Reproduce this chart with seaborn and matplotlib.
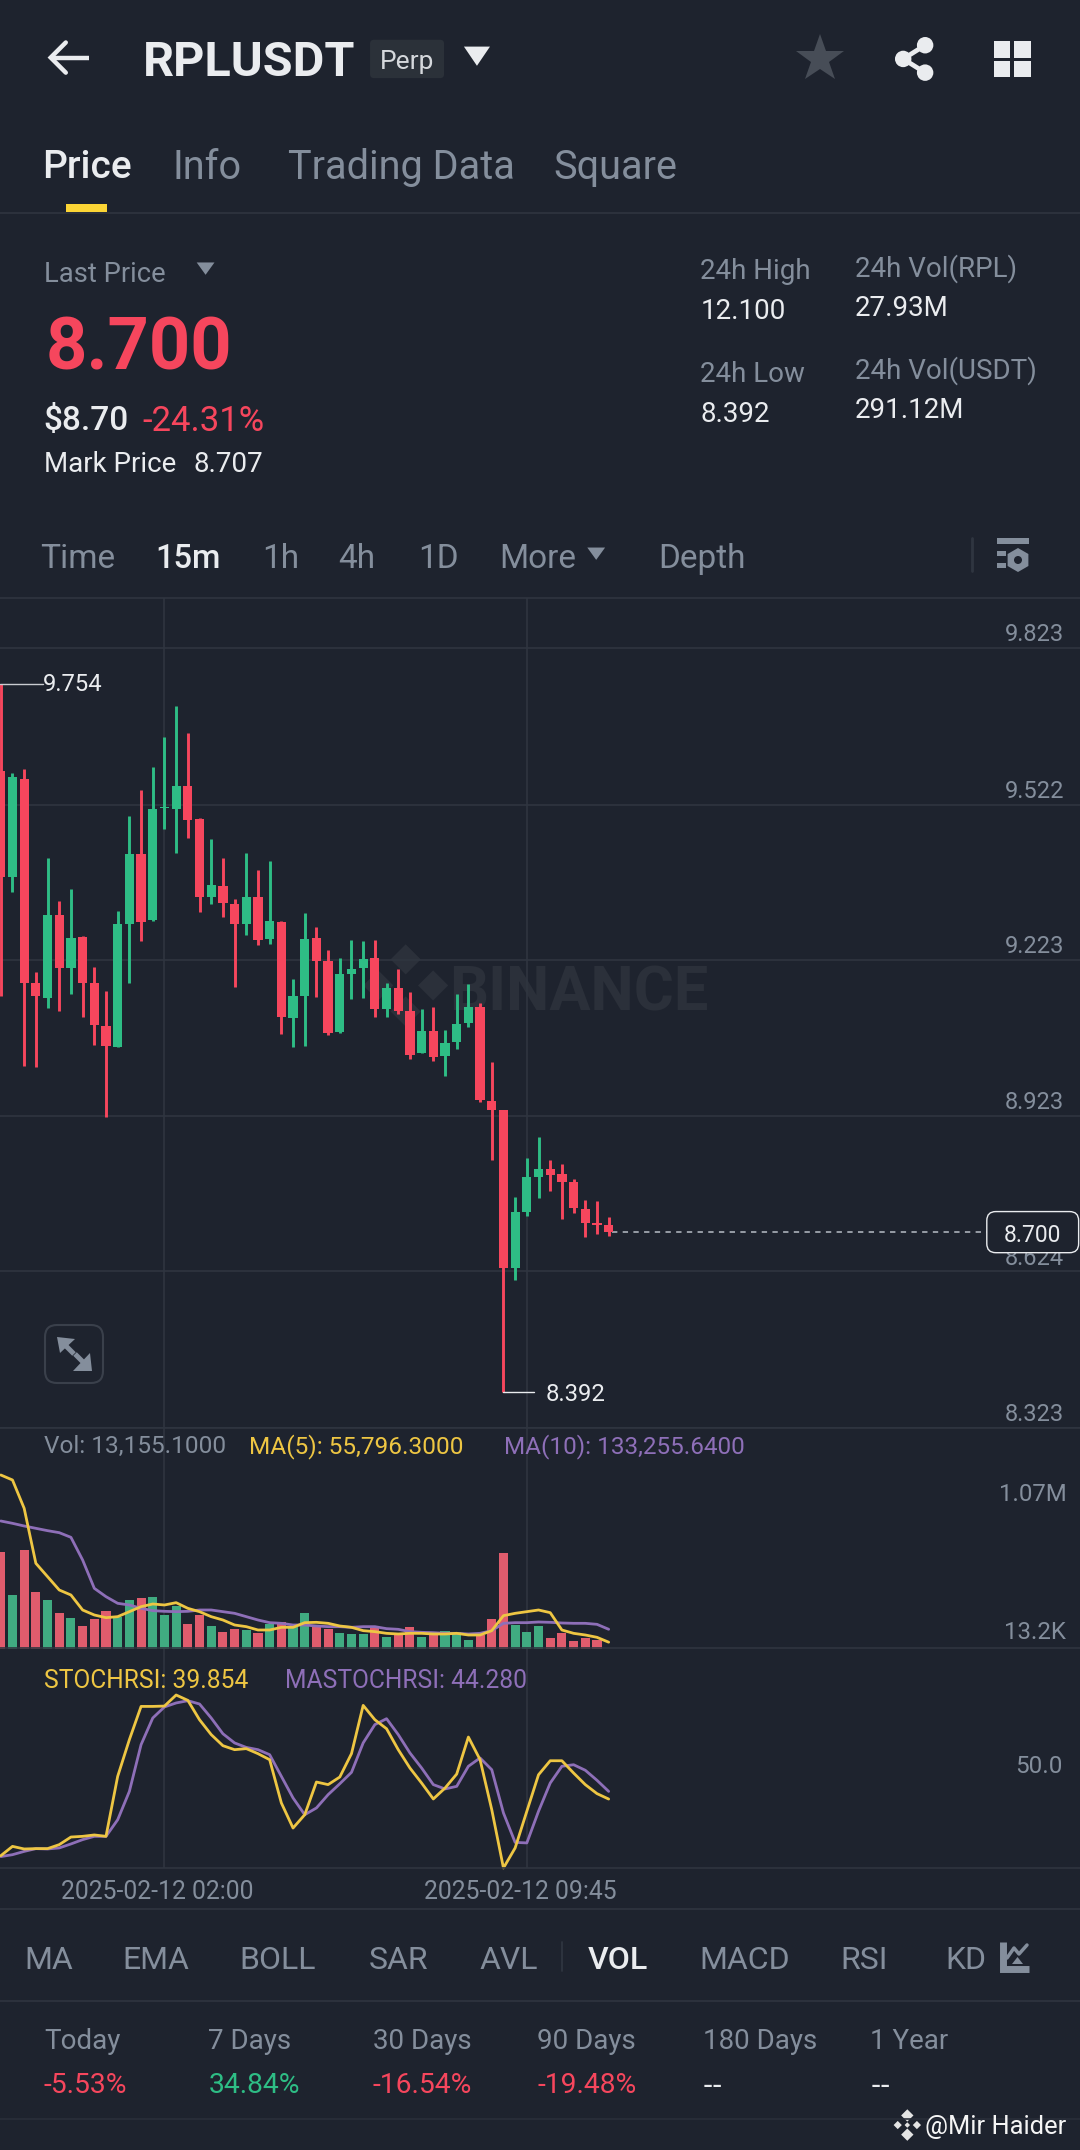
import numpy as np
import pandas as pd
import seaborn as sns
import matplotlib
matplotlib.use("Agg")
import matplotlib.pyplot as plt
from matplotlib.patches import FancyBboxPatch, Rectangle, Polygon, Circle, RegularPolygon

# ---------- data ----------
highs = [9.754,9.583,9.590,9.199,9.419,9.337,9.359,9.269,9.209,9.163,9.318,9.499,9.550,9.594,9.651,9.711,9.659,9.496,9.455,9.420,9.340,9.429,9.396,9.414,9.298,9.186,
         9.313,9.286,9.242,9.227,9.261,9.260,9.262,9.178,9.205,9.162,9.129,9.132,9.088,9.157,9.176,9.140,9.026,8.935,8.768,8.842,8.882,8.839,8.830,8.802,8.761,8.759,8.729]
lows = [9.154,9.353,9.019,9.017,9.131,9.125,9.158,9.114,9.059,8.921,9.055,9.178,9.260,9.298,9.474,9.429,9.457,9.316,9.331,9.306,9.172,9.272,9.251,9.253,9.081,9.055,
        9.058,9.151,9.079,9.083,9.148,9.149,9.113,9.114,9.120,9.033,9.044,9.028,8.999,9.052,9.095,8.949,8.839,8.392,8.607,8.730,8.766,8.778,8.725,8.737,8.691,8.696,8.693]
body_top = [9.587,9.574,9.571,9.179,9.309,9.309,9.266,9.268,9.179,9.097,9.292,9.427,9.426,9.513,9.518,9.558,9.558,9.494,9.367,9.366,9.330,9.344,9.344,9.298,9.297,9.154,
            9.264,9.266,9.221,9.197,9.205,9.225,9.226,9.169,9.169,9.124,9.087,9.087,9.064,9.100,9.133,9.133,8.952,8.934,8.738,8.805,8.821,8.822,8.811,8.797,8.744,8.717,8.714]
body_bot = [9.382,9.382,9.179,9.154,9.149,9.208,9.208,9.179,9.098,9.058,9.056,9.292,9.297,9.299,9.515,9.514,9.492,9.344,9.344,9.332,9.293,9.292,9.262,9.263,9.113,9.111,
            9.153,9.221,9.083,9.085,9.197,9.207,9.128,9.128,9.125,9.041,9.044,9.037,9.039,9.065,9.101,8.953,8.935,8.630,8.630,8.738,8.806,8.810,8.797,8.746,8.717,8.713,8.700]
rising = [0,1,0,0,1,0,1,0,0,0,1,1,0,1,1,1,0,0,1,0,0,1,0,1,0,1,
          1,0,0,1,1,1,0,1,0,0,1,0,1,1,1,0,0,0,1,1,1,0,0,0,0,0,0]
volume_k = [595,341,611,355,307,231,201,155,195,243,209,309,323,327,221,273,167,221,155,117,135,129,113,165,175,145,
            229,153,137,113,105,105,139,85,99,145,89,109,125,115,69,99,197,589,159,115,155,79,109,65,79,71,13.155]
ma5_k = [1059,1029,859,529,449,369,339,249,219,203,209,239,269,285,279,293,259,239,209,189,159,149,129,129,145,145,
         173,175,169,153,145,125,119,109,105,109,109,105,105,109,99,99,125,215,229,239,249,233,129,109,99,85,55.796]
ma10_k = [783,769,753,739,725,713,685,549,379,329,289,279,259,245,241,239,241,249,249,239,229,209,189,173,169,159,
          159,153,149,149,145,149,149,137,133,119,115,113,109,109,105,109,125,169,173,173,177,175,171,169,169,163,133.256]
stoch = [7.1,12.5,11.0,11.2,11.2,13.5,17.9,18.3,19.1,18.3,53.0,74.2,93.4,93.4,93.6,100,96.9,85.7,77.1,70.7,68.4,69.0,66.1,62.6,37.6,23.1,
         30.8,49.7,48.2,52.6,66.1,94.0,85.7,80.5,68.4,57.8,49.1,39.9,46.2,54.3,75.7,62.6,33.7,0,11.6,32.8,53.9,62.0,62.0,54.9,48.2,43.0,39.854]
ma_stoch = [6.6,7.7,9.6,11.2,11.0,11.6,13.9,16.4,18.3,18.3,27.9,44.3,71.3,86.7,93.1,95.4,96.7,94.8,86.7,77.6,72.3,69.7,68.4,65.5,53.0,40.5,
            30.8,34.7,42.4,48.7,55.3,72.3,82.9,86.3,77.1,66.5,57.8,48.2,45.7,47.2,58.8,63.6,56.8,31.8,14.8,14.5,32.8,49.1,58.8,59.7,56.5,50.7,44.28]
price_ticks = [9.823,9.522,9.223,8.923,8.624,8.323]
date_ticks = [14,45]
date_labels = ["2025-02-12 02:00","2025-02-12 09:45"]
tf_labels = ["Time","15m","1h","4h","1D","More"]
indicator_labels = ["MA","EMA","BOLL","SAR","AVL","VOL","MACD","RSI","KD"]
period_labels = ["Today","7 Days","30 Days","90 Days","180 Days","1 Year"]
period_values = ["-5.53%","34.84%","-16.54%","-19.48%","--","--"]

# ---------- style ----------
BG="#1e232e"; LINE="#2f3540"; GRAY="#848e9c"; WHITE="#eaecef"
RED="#f6465d"; GREEN="#2ebd85"; YEL="#eec643"; PUR="#8e6fb8"
sns.set_theme(style="dark", rc={"axes.facecolor":"none","figure.facecolor":BG})
plt.rcParams["font.family"]=["Roboto","DejaVu Sans"]

W,H=1080,2150
fig=plt.figure(figsize=(W/100,H/100),dpi=100,facecolor=BG)
k=1080/788
def panel(top,bot,z=2):
    a=fig.add_axes([0,1-bot/H,1,(bot-top)/H],zorder=z)
    a.set_facecolor("none")
    for s in a.spines.values(): s.set_visible(False)
    a.tick_params(left=False,bottom=False,labelleft=False,labelbottom=False)
    a.grid(False)
    return a
under=fig.add_axes([0,0,1,1],zorder=0); under.set_xlim(0,W); under.set_ylim(H,0); under.axis("off")
over=fig.add_axes([0,0,1,1],zorder=5); over.set_xlim(0,W); over.set_ylim(H,0); over.axis("off")
ap=panel(598,1428); av=panel(1428,1649.3); ar=panel(1649.3,1868)

idx=np.arange(len(highs))
df=pd.DataFrame(dict(i=idx,hi=highs,lo=lows,top=body_top,bot=body_bot,up=rising,vol=np.array(volume_k)*1000,
    ma5=np.array(ma5_k)*1000,ma10=np.array(ma10_k)*1000,st=stoch,mst=ma_stoch))
df["color"]=np.where(df.up==1,GREEN,RED)
XL=(-0.068,92.32)
for a in (ap,av,ar):
    a.set_xlim(*XL)
    a.set_xticks(date_ticks)
    a.xaxis.grid(True,color=LINE,lw=1.2)
    a.set_axisbelow(True)

# price panel
ap.set_ylim(8.323,9.9192)
ap.set_yticks(price_ticks)
ap.yaxis.grid(True,color=LINE,lw=1.2)
ap.vlines(df.i,df.lo,df.hi,colors=df.color,lw=2.1,zorder=3)
ap.bar(df.i,np.maximum(df.top-df.bot,0.003),bottom=df.bot,width=0.79,color=df.color,linewidth=0,zorder=3)
for p in price_ticks:
    ap.annotate(f"{p:.3f}",(1064/1080,p),xycoords=("axes fraction","data"),xytext=(0,1.2),textcoords="offset points",
                ha="right",va="bottom",color=GRAY,fontsize=17)
ap.plot([XL[0],2.15+1.45],[9.754,9.754],color="#c9ccd1",lw=1,zorder=4)
ap.plot([43,45.6],[8.392,8.392],color="#eaecef",lw=1,zorder=4)
ap.plot([52.3,84.4],[8.700,8.700],color="#b7bdc6",lw=1.1,ls=(0,(3.5,3.5)),zorder=2)

# volume panel
vb=13155
av.set_ylim(vb,vb+221.3*6000)
sns.barplot(data=df,x="i",y="vol",hue="color",palette={GREEN:GREEN,RED:RED},dodge=False,native_scale=True,
            width=0.78,legend=False,ax=av,zorder=2,linewidth=0)
sns.lineplot(data=df,x="i",y="ma10",color=PUR,lw=2,ax=av,zorder=3)
sns.lineplot(data=df,x="i",y="ma5",color=YEL,lw=2,ax=av,zorder=4)
av.set_xlim(*XL); av.set_ylim(vb,vb+221.3*6000); av.set_xlabel(""); av.set_ylabel("")
av.tick_params(left=False,bottom=False,labelleft=False,labelbottom=False)

# stoch rsi panel
ar.set_ylim(0,218.7/1.73)
sns.lineplot(data=df,x="i",y="mst",color=PUR,lw=2,ax=ar,zorder=3)
sns.lineplot(data=df,x="i",y="st",color=YEL,lw=2,ax=ar,zorder=4,clip_on=False)
ar.set_xlim(*XL); ar.set_xlabel(""); ar.set_ylabel("")
ar.tick_params(left=False,bottom=False,labelleft=False,labelbottom=False)
ar.set_xticklabels([])

# ---------- text and interface ----------
def T(x,y,s,size=20,color=GRAY,ha="left",weight="normal",ax=over,**kw):
    return ax.text(x*k,(y+1.2)*k,s,fontsize=size,color=color,ha=ha,va="center",fontweight=weight,**kw)
def hline(y,color=LINE,lw=1.2,x0=0,x1=788):
    over.plot([x0*k,x1*k],[y*k,y*k],color=color,lw=lw,solid_capstyle="butt")
def tri(x,y,w,h,color):
    over.add_patch(Polygon([((x-w/2)*k,(y-h/2)*k),((x+w/2)*k,(y-h/2)*k),(x*k,(y+h/2)*k)],color=color,lw=0))
def diamond(cx,cy,r,color,ax=over):
    ax.add_patch(Polygon([((cx-r)*k,cy*k),(cx*k,(cy-r)*k),((cx+r)*k,cy*k),(cx*k,(cy+r)*k)],color=color,lw=0))

# header
over.plot([38*k,65*k],[42*k,42*k],color=WHITE,lw=3.2,solid_capstyle="butt")
over.plot([48*k,37*k,48*k],[31*k,42*k,53*k],color=WHITE,lw=3.2,solid_joinstyle="miter")
T(104,45,"RPLUSDT",35,WHITE,weight="bold")
over.add_patch(FancyBboxPatch((270*k,29*k),54*k,28*k,boxstyle="round,pad=0,rounding_size=4",color="#2b3139",lw=0))
T(297,44,"Perp",19,"#d5d8dc",ha="center")
tri(348,41,19,14,WHITE)
over.plot([598*k],[43*k],marker="*",ms=36,color="#474d57",mew=0)
sx=[675,659,675]; sy=[33,43,53]
over.plot([x*k for x in sx],[y*k for y in sy],color=WHITE,lw=3.4)
for x,y in zip(sx,sy): over.add_patch(Circle((x*k,y*k),6*k,color=WHITE,lw=0))
for x,y in [(725,30),(740,30),(725,44.5),(740,44.5)]:
    over.add_patch(Rectangle((x*k,y*k),12*k,12*k,color=WHITE,lw=0))

# tabs
T(31,121,"Price",28,WHITE,weight="medium")
T(126,121,"Info",28.5); T(210,121,"Trading Data",28.5); T(404,121,"Square",28.5)
over.add_patch(Rectangle((48*k,149*k),30*k,6*k,color="#fcd535",lw=0))
hline(155.5)

# price summary
T(32,199,"Last Price",19.7); tri(150,196,13,9,GRAY)
T(33,254,"8.700",52,RED,weight="bold")
T(32,306,"$8.70",24,WHITE,weight="medium"); T(104,306,"-24.31%",25,RED)
T(32,338,"Mark Price",20,WHITE); T(141,338,"8.707",20,WHITE)
T(511,197,"24h High",20); T(511,226,"12.100",20,WHITE)
T(511,272,"24h Low",20); T(511,301,"8.392",20,WHITE)
T(624,195,"24h Vol(RPL)",20); T(624,224,"27.93M",20,WHITE)
T(624,269,"24h Vol(USDT)",20); T(624,298,"291.12M",20,WHITE)

# timeframe row
for x,s in zip([29,113,191,247,305,364],tf_labels):
    T(x,407,s,23.5 if s=="15m" else 24,WHITE if s=="15m" else GRAY,weight="medium" if s=="15m" else "normal")
tri(435,404,13,9,GRAY); T(480,407,"Depth",24)
# timeframe settings icon
over.plot([972,972],[538,571],color=LINE,lw=2)
over.add_patch(Rectangle((997,538),32,6,color=GRAY,lw=0))
over.add_patch(Rectangle((997,551),9,5,color=GRAY,lw=0))
over.add_patch(Rectangle((997,563),9,5,color=GRAY,lw=0))
over.add_patch(RegularPolygon((1018,560),6,radius=12,color=GRAY,lw=0))
over.add_patch(Circle((1018,560),4,color=BG,lw=0))
hline(436)

# price labels
T(31,498,"9.754",17.2,WHITE); T(398,1016.5,"8.392",17.2,WHITE)
over.add_patch(FancyBboxPatch((720*k,884*k),67*k,30*k,boxstyle="round,pad=0,rounding_size=9",fc=BG,ec=WHITE,lw=1))
T(753,900,"8.700",16.5,WHITE,ha="center")

# watermark
under.text(328*k,725*k,"BINANCE",fontsize=44,color="#2b303a",fontweight="bold",va="center")
for cx,cy,r in [(296,700,11),(296,738,11),(276,719,11),(316,719,11)]:
    diamond(cx,cy,r,"#2b303a",ax=under)

# expand button
over.add_patch(FancyBboxPatch((45,1325),58,58,boxstyle="round,pad=0,rounding_size=12",fc=BG,ec="#3a404b",lw=1.5))
over.add_patch(Polygon([(57,1337),(75,1339),(60,1353)],color=GRAY,lw=0))
over.plot([66,74],[1346,1354],color=GRAY,lw=3.6,solid_capstyle="butt")
over.add_patch(Polygon([(92,1371),(73,1371),(90,1353)],color=GRAY,lw=0))
over.plot([83,75],[1362,1354],color=GRAY,lw=3.6,solid_capstyle="butt")

# panel captions
hline(1042); hline(1202.5); hline(1363); hline(1393); hline(1460); hline(1546,"#2a2f3a")
T(32,1054,"Vol: 13,155.1000",17.6,GRAY)
T(182,1054,"MA(5): 55,796.3000",17.6,YEL)
T(368,1054,"MA(10): 133,255.6400",17.5,PUR)
T(778,1089,"1.07M",17.3,ha="right"); T(778,1190,"13.2K",17.3,ha="right")
T(32,1225,"STOCHRSI: 39.854",17.7,YEL); T(208,1225,"MASTOCHRSI: 44.280",17.7,PUR)
T(775,1287.5,"50.0",17.5,ha="right")
for i,s in zip(date_ticks,date_labels):
    over.text((0.8+11.69*i)-7,1380.5*k,s,fontsize=17.8,color=GRAY,ha="center",va="center")

# indicator row
for x,s in zip([18,89,175,269,350,429,510,613,690],indicator_labels):
    sel=s=="VOL"
    T(x,1429,s,23,WHITE if sel else GRAY,weight="medium" if sel else "normal")
over.plot([410*k,410*k],[1417*k,1438*k],color=LINE,lw=1.3)
over.add_patch(Rectangle((966,1930),24,44,color=BG,alpha=0.75,lw=0))
over.plot([1002.5,1002.5,1029],[1942,1968.5,1968.5],color=GRAY,lw=5,solid_joinstyle="miter",solid_capstyle="butt")
over.plot([1007,1014,1019,1027],[1958,1948,1954,1945],color=GRAY,lw=2.5)
over.add_patch(Polygon([(1012,1964),(1023,1964),(1017.5,1957)],color=GRAY,lw=0))

# period returns
pcol=[RED,GREEN,RED,RED,WHITE,WHITE]
for x,a,b,c in zip([32,152,272,392,513,635],period_labels,period_values,pcol):
    T(x,1488.5,a,20)
    over.text(x*k,1522*k,b,fontsize=20.3,color=c,ha="left",va="center",
              family=["DejaVu Sans"] if b=="--" else ["Roboto"])

# credit
T(675,1551,"@Mir Haider",18.4,"#f5f5f5")
for cx,cy,r in [(662,1543.5,4.5),(662,1557.5,4.5),(655,1550.5,3),(669,1550.5,3),(662,1550.5,2)]:
    diamond(cx,cy,r,"#e4e4e4")

fig.savefig("out.png",dpi=100,facecolor=BG)
